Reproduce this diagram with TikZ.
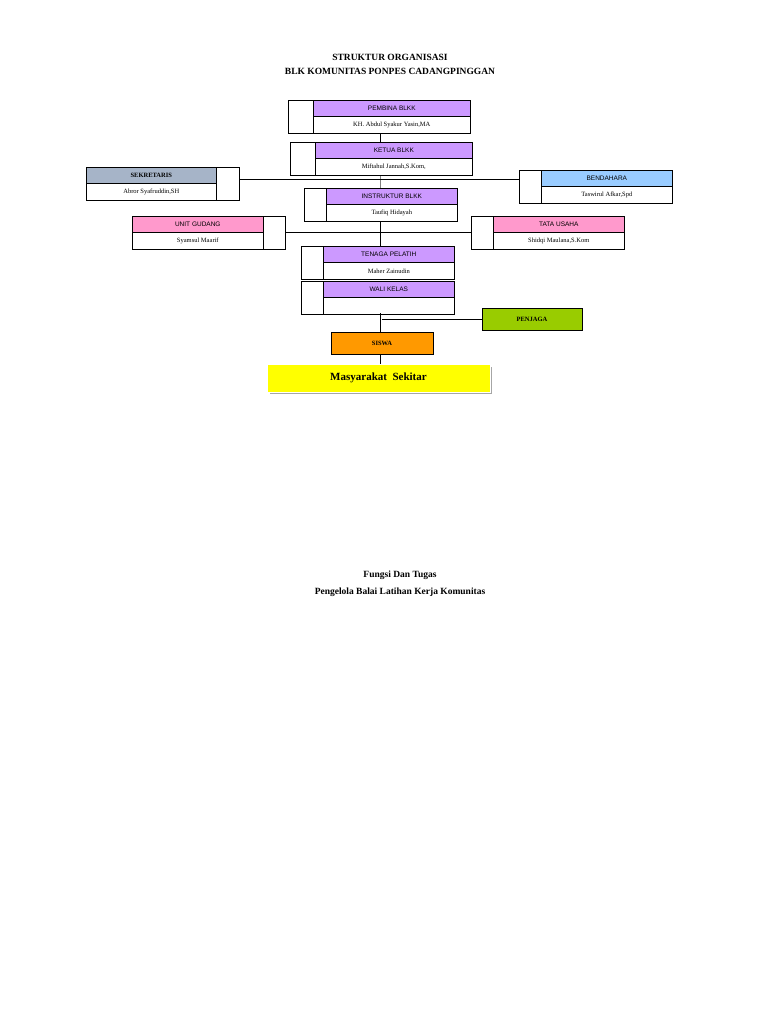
\documentclass[tikz,border=0pt]{standalone}
\usepackage{fontspec}
\setmainfont{Liberation Serif}
\newfontfamily\lsans{Liberation Sans}
\definecolor{cpurple}{HTML}{CC99FF}
\definecolor{cgray}{HTML}{A6B4C8}
\definecolor{cblue}{HTML}{99CCFF}
\definecolor{cpink}{HTML}{FF99CC}
\definecolor{cgreen}{HTML}{99CC00}
\definecolor{corange}{HTML}{FF9900}
\definecolor{cyellow}{HTML}{FFFF00}
\tikzset{
 hdr/.style={draw,line width=0.6pt,anchor=north west,inner sep=0pt,font=\lsans\fontsize{6.5}{7}\selectfont},
 nm/.style={draw,line width=0.6pt,anchor=north west,inner sep=0pt,fill=white,font=\fontsize{6.5}{7}\selectfont},
 ext/.style={draw,line width=0.6pt,fill=white},
 ln/.style={line width=0.6pt},
 ttl/.style={font=\bfseries\fontsize{9.5}{11}\selectfont}
}
% #1 name, #2 outer left, #3 color left, #4 right, #5 top, #6 color, #7 label, #8 person, #9 ext side (l or r)
\newcommand{\orgbox}[9]{%
 \def\tmpside{#9}%
 \ifx\tmpside\empty
  \draw[ext] (#2,#5) rectangle (#3,#5+33);
 \else
  \draw[ext] (#4,#5) rectangle (#9,#5+33);
 \fi
 \node[hdr,fill=#6,minimum width=#4pt-#3pt,minimum height=16pt] (#1h) at (#3,#5) {#7};
 \node[nm,minimum width=#4pt-#3pt,minimum height=17pt] (#1) at (#3,#5+16) {#8};
}
\begin{document}
\begin{tikzpicture}[x=1pt,y=-1pt]
\useasboundingbox[fill=white] (0,0) rectangle (768,1024);
\node[ttl] (t1) at (390,57) {STRUKTUR ORGANISASI};
\node[ttl] (t2) at (390,71) {BLK KOMUNITAS PONPES CADANGPINGGAN};
% center line
\coordinate (c1) at (380,133);
\coordinate (c2) at (380,142);
\draw[ln] (c1) -- (c2);
\draw[ln,gray] (380,174) -- (380,188);
\draw[ln] (380,220) -- (380,246);
\draw[ln] (239,179) -- (519,179);
\draw[ln] (285,232) -- (471,232);
\orgbox{pembina}{288}{313}{470}{100}{cpurple}{PEMBINA BLKK}{KH. Abdul Syakur Yasin,MA}{}
\orgbox{ketua}{290}{315}{472}{142}{cpurple}{KETUA BLKK}{Miftahul Jannah,S.Kom,}{}
\orgbox{instruktur}{304}{326}{457}{188}{cpurple}{INSTRUKTUR BLKK}{Taufiq Hidayah}{}
\orgbox{bendahara}{519}{541}{672}{170}{cblue}{BENDAHARA}{Taswirul Afkar,Spd}{}
\orgbox{tata}{471}{493}{624}{216}{cpink}{TATA USAHA}{Shidqi Maulana,S.Kom}{}
\orgbox{tenaga}{301}{323}{454}{246}{cpurple}{TENAGA PELATIH}{Maher Zainudin}{}
\orgbox{wali}{301}{323}{454}{281}{cpurple}{WALI KELAS}{}{}
\orgbox{sekretaris}{0}{86}{216}{167}{cgray}{\rmfamily\bfseries SEKRETARIS}{Abror Syafruddin,SH}{239}
\orgbox{gudang}{0}{132}{263}{216}{cpink}{UNIT GUDANG}{Syamsul Maarif}{285}
% lower part
\node[draw,line width=0.6pt,fill=corange,minimum width=102pt,minimum height=22pt,inner sep=0pt,font=\bfseries\fontsize{6.5}{7}\selectfont] (siswa) at (382,343) {SISWA};
\node[draw,line width=0.6pt,fill=cgreen,minimum width=100pt,minimum height=22pt,inner sep=0pt,font=\bfseries\fontsize{6.5}{7}\selectfont] (penjaga) at (532,319) {PENJAGA};
\fill[gray!70] (270,367) rectangle (492,394);
\node[draw=white,fill=cyellow,minimum width=223pt,minimum height=28pt,inner sep=0pt,font=\bfseries\fontsize{11}{13}\selectfont] (masy) at (378.5,378) {Masyarakat\ \ Sekitar};
\draw[ln] (380,313) -- (siswa.north -| 380,0);
\coordinate (pj) at (382,319);
\draw[ln] (pj) -- (penjaga.west);
\draw[ln] (siswa.south -| 380,0) -- (masy.north -| 380,0);
\node[ttl] (f1) at (400,575) {Fungsi Dan Tugas};
\node[ttl] (f2) at (400,592) {Pengelola Balai Latihan Kerja Komunitas};
\end{tikzpicture}
\end{document}
